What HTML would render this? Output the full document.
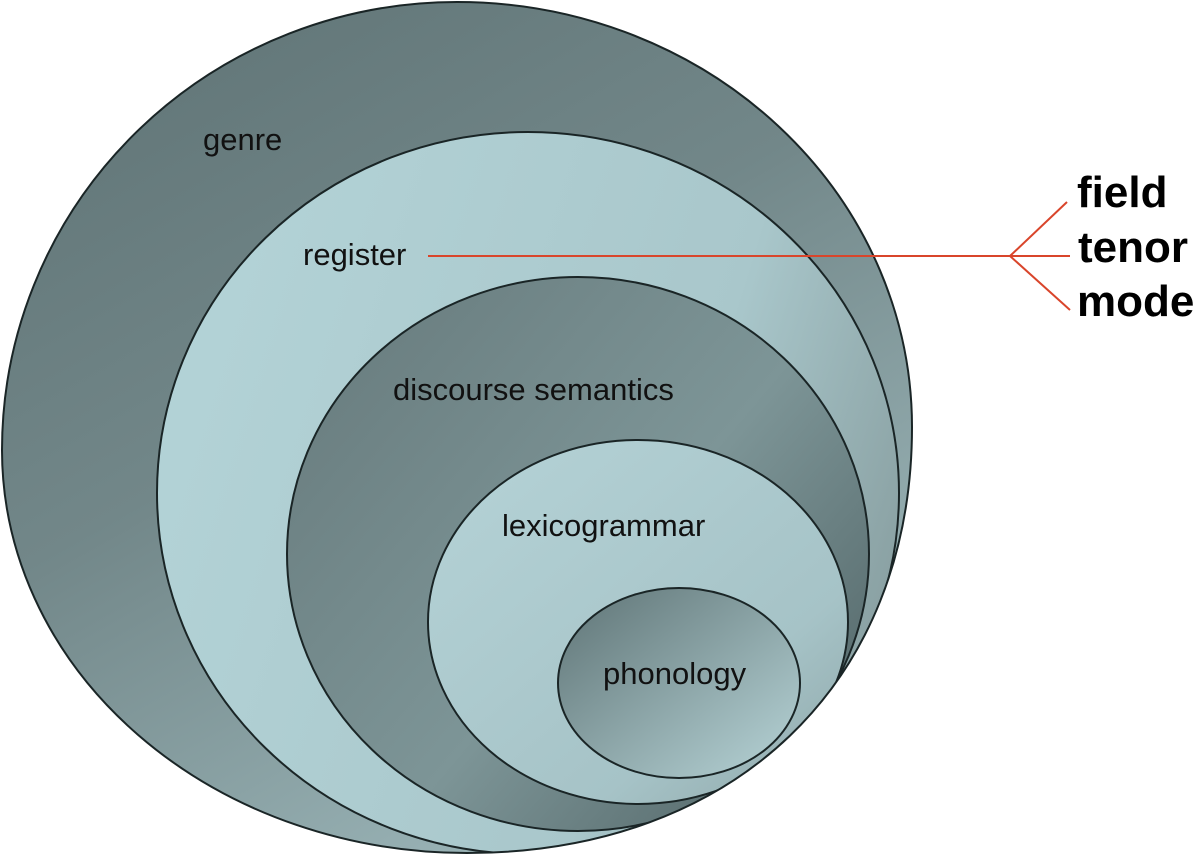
<!DOCTYPE html>
<html><head><meta charset="utf-8"><style>
html,body{margin:0;padding:0;background:#fff;width:1200px;height:857px;overflow:hidden}
svg{display:block}
text{font-family:"Liberation Sans",Arial,sans-serif}
</style></head><body>
<svg width="1200" height="857" viewBox="0 0 1200 857">
<defs>
<linearGradient id="og" x1="0" y1="0" x2="0.6" y2="1">
<stop offset="0" stop-color="#5e7274"/><stop offset="0.5" stop-color="#728789"/><stop offset="1" stop-color="#9bb5b8"/>
</linearGradient>
<linearGradient id="rg" x1="0" y1="0.3" x2="1" y2="0.6">
<stop offset="0" stop-color="#b3d3d7"/><stop offset="0.7" stop-color="#a9c7cb"/><stop offset="1" stop-color="#8aa1a3"/>
</linearGradient>
<linearGradient id="dg" x1="0" y1="0" x2="1" y2="0.8">
<stop offset="0" stop-color="#66797b"/><stop offset="0.6" stop-color="#7d9597"/><stop offset="1" stop-color="#55696b"/>
</linearGradient>
<linearGradient id="lg" x1="0" y1="0" x2="1" y2="1">
<stop offset="0" stop-color="#b5d3d7"/><stop offset="0.7" stop-color="#a6c3c7"/><stop offset="1" stop-color="#8ea6a8"/>
</linearGradient>
<linearGradient id="pg" x1="0" y1="0" x2="1" y2="1">
<stop offset="0" stop-color="#5e7375"/><stop offset="1" stop-color="#b8d5d8"/>
</linearGradient>
<clipPath id="oc"><path id="op" d="M457,2 A455,425 0 0 1 912,427 C912,683 734,853 467,853 A465,403 0 0 1 2,450 A455,448 0 0 1 457,2 Z"/></clipPath>
</defs>
<path d="M457,2 A455,425 0 0 1 912,427 C912,683 734,853 467,853 A465,403 0 0 1 2,450 A455,448 0 0 1 457,2 Z" fill="url(#og)"/>
<g clip-path="url(#oc)" stroke="#1a2526" stroke-width="2">
<ellipse cx="528" cy="493" rx="371" ry="361" fill="url(#rg)"/>
<ellipse cx="578" cy="554" rx="291" ry="277" fill="url(#dg)"/>
<ellipse cx="638" cy="622" rx="210" ry="182" fill="url(#lg)"/>
<ellipse cx="679" cy="683" rx="121" ry="95" fill="url(#pg)"/>
</g>
<path d="M457,2 A455,425 0 0 1 912,427 C912,683 734,853 467,853 A465,403 0 0 1 2,450 A455,448 0 0 1 457,2 Z" fill="none" stroke="#1a2526" stroke-width="2"/>
<g font-size="31" fill="#111">
<text x="203" y="150">genre</text>
<text x="303" y="265">register</text>
<text x="393" y="400">discourse semantics</text>
<text x="502" y="536">lexicogrammar</text>
<text x="603" y="684">phonology</text>
</g>
<g stroke="#d9452b" stroke-width="2" fill="none">
<line x1="428" y1="256" x2="1010" y2="256"/>
<line x1="1010" y1="256" x2="1067" y2="202"/>
<line x1="1010" y1="256" x2="1070" y2="256"/>
<line x1="1010" y1="256" x2="1070" y2="310"/>
</g>
<g font-size="44" font-weight="bold" fill="#000">
<text x="1077" y="207">field</text>
<text x="1078" y="262">tenor</text>
<text x="1077" y="316">mode</text>
</g>
</svg>
</body></html>
